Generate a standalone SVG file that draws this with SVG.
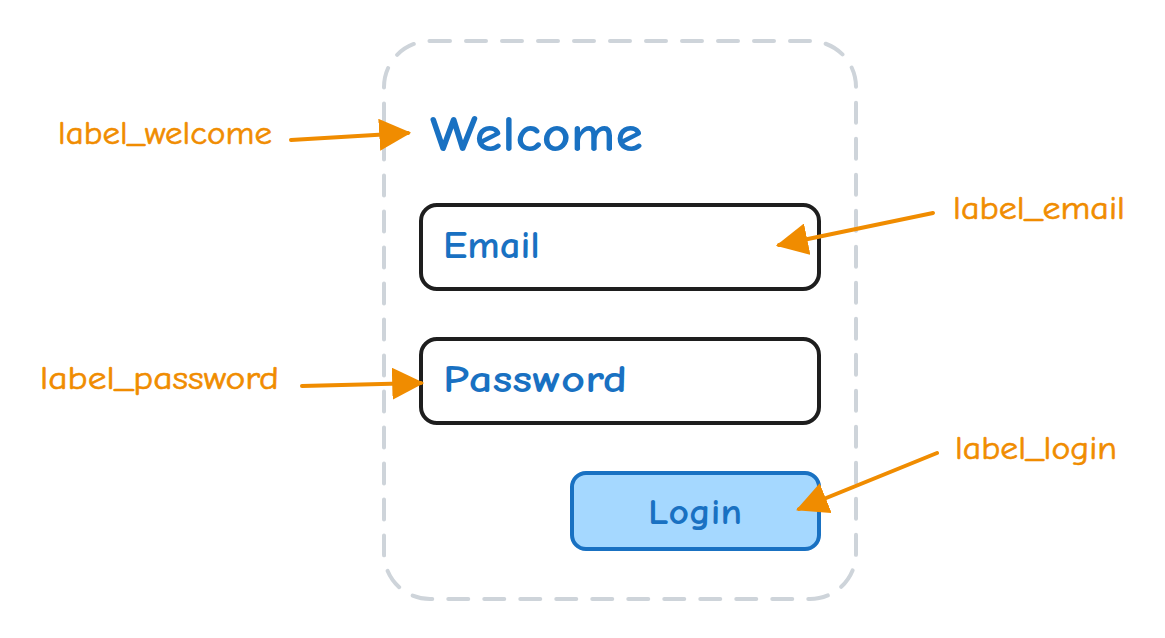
<svg xmlns="http://www.w3.org/2000/svg" width="1165" height="638" viewBox="0 0 1165 638">
<defs>
<style>
.lbl{font-family:"Comic Neue","Liberation Sans",sans-serif;font-size:32px;font-weight:normal;fill:#f08c00;stroke:#f08c00;stroke-width:0.6}
.ui{font-family:"Comic Neue","Liberation Sans",sans-serif;font-weight:bold;fill:#1971c2}
.box{fill:#ffffff;stroke:#1e1e1e;stroke-width:4}
.conn{stroke:#f08c00;stroke-width:4;stroke-linecap:round;fill:none}
</style>
<marker id="ah" viewBox="0 0 10 10" refX="9" refY="5" markerWidth="8" markerHeight="8" markerUnits="strokeWidth" orient="auto">
<path d="M0,0 L10,5 L0,10 Z" fill="#f08c00"/>
</marker>
</defs>
<rect width="1165" height="638" fill="#ffffff"/>
<g id="container">
<rect x="384" y="41" width="472" height="558" rx="46" fill="none" stroke="#ced4da" stroke-width="4" stroke-dasharray="20 16" stroke-linecap="round"/>
</g>
<g id="welcome">
<text class="ui" x="430" y="151" font-size="50" textLength="213" lengthAdjust="spacingAndGlyphs">Welcome</text>
</g>
<g id="email">
<rect class="box" x="421" y="205" width="398" height="84" rx="16"/>
<text class="ui" x="443" y="258" font-size="38" textLength="97" lengthAdjust="spacingAndGlyphs">Email</text>
</g>
<g id="password">
<rect class="box" x="421" y="339" width="398" height="84" rx="16"/>
<text class="ui" x="443" y="392" font-size="38" textLength="184" lengthAdjust="spacingAndGlyphs">Password</text>
</g>
<g id="login">
<rect x="572" y="473" width="247" height="76" rx="14" fill="#a5d8ff" stroke="#1971c2" stroke-width="4"/>
<text class="ui" x="695" y="524" font-size="36" text-anchor="middle" textLength="94" lengthAdjust="spacingAndGlyphs">Login</text>
</g>
<g id="label_welcome">
<text class="lbl" x="58" y="144" textLength="214" lengthAdjust="spacingAndGlyphs">label_welcome</text>
</g>
<g id="label_email">
<text class="lbl" x="953" y="219" textLength="172" lengthAdjust="spacingAndGlyphs">label_email</text>
</g>
<g id="label_password">
<text class="lbl" x="40" y="389" textLength="239" lengthAdjust="spacingAndGlyphs">label_password</text>
</g>
<g id="label_login">
<text class="lbl" x="955" y="459" textLength="162" lengthAdjust="spacingAndGlyphs">label_login</text>
</g>
<g id="connectors">
<line class="conn" x1="291" y1="140" x2="408" y2="133" marker-end="url(#ah)"/>
<line class="conn" x1="933" y1="213" x2="779" y2="245" marker-end="url(#ah)"/>
<line class="conn" x1="302" y1="386" x2="421" y2="383" marker-end="url(#ah)"/>
<line class="conn" x1="937" y1="453" x2="799" y2="509" marker-end="url(#ah)"/>
</g>
</svg>
